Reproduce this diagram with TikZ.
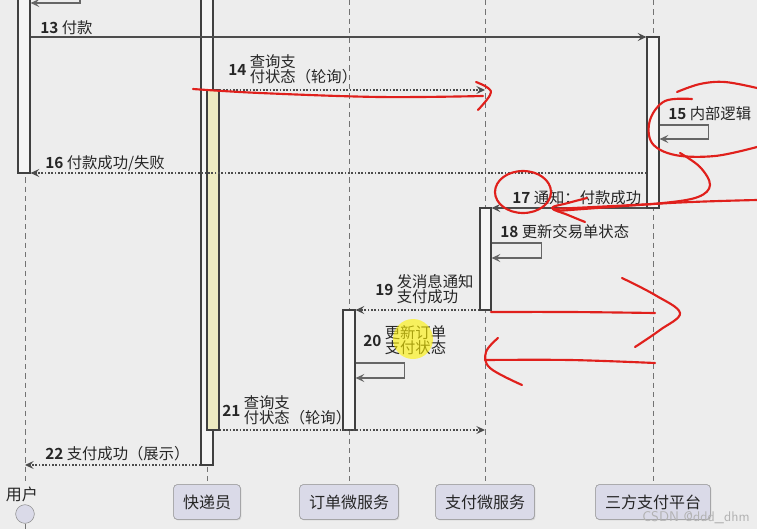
\documentclass[tikz,border=0pt]{standalone}
\usepackage{fontspec}
\setmainfont{Noto Sans CJK SC}[BoldFont={Noto Sans CJK SC Bold}]
\usepackage{tikz}
\usetikzlibrary{arrows.meta,fit,shapes,shadows}

\definecolor{bgcol}{HTML}{EDEDED}
\definecolor{partcol}{HTML}{DADAE8}
\definecolor{baryellow}{HTML}{EEEBC2}
\definecolor{inkred}{HTML}{E0201C}

\begin{document}
\begin{tikzpicture}[x=0.75pt,y=-0.75pt]
\tikzstyle{every node}=[font=\fontsize{11.5}{13}\selectfont,text=black!85]
\tikzstyle{lifeline}=[draw=black!55,line width=0.6pt,dash pattern=on 4pt off 3pt]
\tikzstyle{actbar}=[draw=black!75,fill=white!96!black,line width=0.9pt,inner sep=0pt]
\tikzstyle{msg}=[draw=black!70,line width=0.8pt,-{Stealth[length=6.5pt,width=6pt,inset=2.5pt]}]
\tikzstyle{reply}=[msg,dash pattern=on 1.2pt off 1.3pt]
\tikzstyle{selfmsg}=[msg,draw=black!60,line width=1pt]
\tikzstyle{lbl}=[anchor=base west,inner sep=0pt]
\tikzstyle{lbl2}=[anchor=west,inner sep=0pt]
\tikzstyle{participant}=[draw=black!45,fill=partcol,rounded corners=2.5pt,
  minimum height=26pt,inner xsep=7pt,font=\fontsize{12}{14}\selectfont,
  drop shadow={shadow xshift=0.8pt,shadow yshift=-0.8pt,fill=black!25}]
\tikzstyle{ink}=[draw=inkred,line width=1.6pt,line cap=round,line join=round]

%% Background and frame
\useasboundingbox[fill=bgcol] (0,0) rectangle (757,529);
\clip (0,0) rectangle (757,529);

%% Participants at the bottom
\node [participant] (courier) at (207,502) {快递员};
\node [participant] (order) at (349,502) {订单微服务};
\node [participant] (pay) at (485,502) {支付微服务};
\node [participant] (third) at (653,502) {三方支付平台};
\node [inner sep=0pt] (userlbl) at (22,494) {\fontsize{12}{14}\selectfont 用户};
\node [draw=black!45,fill=partcol,circle,minimum size=14pt,inner sep=0pt] (user) at (25,514) {};

%% Lifelines
\draw [lifeline] (user |- 0,0) -- (user |- 0,481);
\draw [lifeline] (user.south) -- (user |- 0,529);
\draw [lifeline] (courier |- 0,0) -- (courier.north);
\draw [lifeline] (order |- 0,0) -- (order.north);
\draw [lifeline] (pay |- 0,0) -- (pay.north);
\draw [lifeline] (third |- 0,0) -- (third.north);

%% Activation bars
\node [actbar,fit={(18,-5) (30,173)}] (ubar) {};
\node [actbar,fit={(201,-5) (213,465)}] (kbar) {};
\node [actbar,fill=baryellow,fit={(207,90) (219,430)}] (kbar2) {};
\node [actbar,fit={(647,37) (659,208)}] (tbar) {};
\node [actbar,fit={(480,208) (491,310)}] (pbar) {};
\node [actbar,fit={(343,310) (355,430)}] (obar) {};

%% Message rows
\coordinate (y0a) at (0,-12);
\coordinate (y0b) at (80,3);
\coordinate (y13) at (0,37);
\coordinate (y14) at (0,90);
\coordinate (y15) at (0,125);
\coordinate (y16) at (0,173);
\coordinate (y17) at (0,208);
\coordinate (y18) at (0,243);
\coordinate (y19) at (0,310);
\coordinate (y20) at (0,363);
\coordinate (y21) at (0,430);
\coordinate (y22) at (0,465);

%% Messages
\draw [selfmsg] (ubar.east |- y0a) -- (y0b |- y0a) -- (y0b) -- (ubar.east |- y0b);
\draw [msg] (ubar.east |- y13) -- (tbar.west |- y13);
\node [lbl] (l13) at (40,33) {\textbf{13} 付款};

\draw [reply] (kbar2.east |- y14) -- (pay |- y14);
\node [lbl2] (l14) at (228,71) {\textbf{14} \begin{tabular}{@{}l@{}}查询支\\[-2pt]付状态（轮询）\end{tabular}};

\draw [selfmsg] (tbar.east |- y15) -- ++(49,0) -- ++(0,14) -- (tbar.east |- 0,139);
\node [lbl] (l15) at (668,119) {\textbf{15} 内部逻辑};

\draw [reply] (tbar.west |- y16) -- (ubar.east |- y16);
\node [lbl] (l16) at (45,168) {\textbf{16} 付款成功/失败};

\draw [msg,line width=1pt] (tbar.west |- y17) -- (pbar.east |- y17);
\node [lbl] (l17) at (512,203) {\textbf{17} 通知：付款成功};

\draw [selfmsg] (pbar.east |- y18) -- ++(50,0) -- ++(0,15) -- (pbar.east |- 0,258);
\node [lbl] (l18) at (500,237) {\textbf{18} 更新交易单状态};

\draw [reply] (pbar.west |- y19) -- (obar.east |- y19);
\node [lbl2] (l19) at (375,291) {\textbf{19} \begin{tabular}{@{}l@{}}发消息通知\\[-2pt]支付成功\end{tabular}};

\draw [selfmsg] (obar.east |- y20) -- ++(49,0) -- ++(0,15) -- (obar.east |- 0,378);
\node [lbl2] (l20) at (363,342) {\textbf{20} \begin{tabular}{@{}l@{}}更新订单\\[-2pt]支付状态\end{tabular}};

\draw [reply] (kbar2.east |- y21) -- (pay |- y21);
\node [lbl2] (l21) at (222,412) {\textbf{21} \begin{tabular}{@{}l@{}}查询支\\[-2pt]付状态（轮询）\end{tabular}};

\draw [reply] (kbar.west |- y22) -- (user |- y22);
\node [lbl] (l22) at (45,459) {\textbf{22} 支付成功（展示）};

%% Hand annotations
\fill [yellow,opacity=0.6] (413,339) circle [radius=20];
\draw [ink] plot[smooth,tension=0.6] coordinates {(193,89) (260,93) (380,97) (483,96)};
\draw [ink] plot[smooth,tension=0.7] coordinates {(476,82) (488,88) (490,95) (478,110)};
\draw [ink] plot[smooth,tension=0.6] coordinates {(677,92) (700,84) (725,82) (757,88)};
\draw [ink] plot[smooth,tension=0.6] coordinates {(692,99) (665,101) (650,120) (652,143) (675,155) (715,156) (757,147)};
\draw [ink] plot[smooth,tension=0.6] coordinates {(680,153) (700,167) (710,185) (698,197) (663,203) (613,206) (553,209)};
\draw [ink] plot[smooth,tension=0.6] coordinates {(757,200) (670,203) (557,211)};
\draw [ink] plot[smooth,tension=0.6] coordinates {(587,198) (568,203) (552,208) (568,215) (585,222)};
\draw [ink] (523,192) ellipse [x radius=28,y radius=21];
\draw [ink] plot[smooth,tension=0.6] coordinates {(491,312) (570,312) (655,313)};
\draw [ink] plot[smooth,tension=0.6] coordinates {(622,278) (655,295) (680,313) (660,330) (635,347)};
\draw [ink] plot[smooth,tension=0.6] coordinates {(655,363) (570,360) (485,360)};
\draw [ink] plot[smooth,tension=0.6] coordinates {(498,338) (486,352) (490,368) (522,385)};

%% Watermark
\node [lbl,text=white!70!black,font=\fontsize{10.5}{12}\sffamily] (mark) at (642,521) {CSDN @ddd\_dhm};
\end{tikzpicture}
\end{document}
